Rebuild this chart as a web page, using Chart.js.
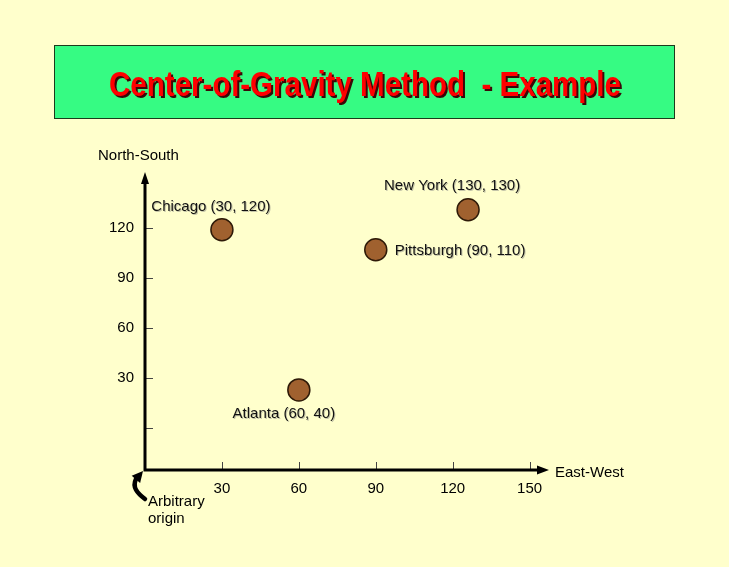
<!DOCTYPE html>
<html>
<head>
<meta charset="utf-8">
<script src="https://cdn.jsdelivr.net/npm/chart.js@4/dist/chart.umd.min.js"></script>
<style>
  html, body { margin: 0; padding: 0; background: #ffffcc; }
  canvas { display: block; }
</style>
</head>
<body>
<canvas id="myChart" width="729" height="567"></canvas>
<script>
const cities = ['Chicago (30, 120)', 'New York (130, 130)', 'Pittsburgh (90, 110)', 'Atlanta (60, 40)'];
const eastWest = [30, 126, 90, 60];
const northSouth = [119, 131, 107, 23];
const xTicks = [30, 60, 90, 120, 150];
const yTicks = [0, 30, 60, 90, 120];

const sans = '"Liberation Sans", Arial, sans-serif';
// where each city label sits relative to its point
const labelPlace = [
  { dx: -11, dy: -23, align: 'center' },
  { dx: -16, dy: -24, align: 'center' },
  { dx: 19, dy: 1, align: 'left' },
  { dx: -15, dy: 24, align: 'center' }
];

function arrowHead(c, x, y, ang, len, half) {
  c.save();
  c.translate(x, y);
  c.rotate(ang);
  c.beginPath();
  c.moveTo(0, 0);
  c.lineTo(-len, -half);
  c.lineTo(-len, half);
  c.closePath();
  c.fill();
  c.restore();
}

const slide = {
  id: 'slide',
  beforeDraw(chart) {
    const c = chart.ctx;
    c.save();
    c.fillStyle = '#ffffcc';
    c.fillRect(0, 0, chart.width, chart.height);
    // title box
    c.fillStyle = '#36fb83';
    c.fillRect(54, 45, 620, 73);
    c.strokeStyle = '#1c3a1c';
    c.lineWidth = 1;
    c.strokeRect(54.5, 45.5, 620, 73);
    const title = 'Center-of-Gravity Method  - Example';
    c.font = 'bold 35px ' + sans;
    c.textAlign = 'center';
    c.textBaseline = 'alphabetic';
    const sx = 512 / c.measureText(title).width;   // narrow look
    c.translate(365, 96);
    c.scale(sx, 1);
    c.fillStyle = '#3a0808';
    c.fillText(title, 2 / sx, 2);
    c.fillStyle = '#ff0000';
    c.fillText(title, 0, 0);
    c.restore();
  },
  beforeDatasetsDraw(chart) {
    const c = chart.ctx;
    const a = chart.chartArea;
    const xs = chart.scales.x, ys = chart.scales.y;
    c.save();
    // tick marks, inside the axes
    c.strokeStyle = '#444';
    c.lineWidth = 1;
    yTicks.forEach(v => {
      const y = Math.round(ys.getPixelForValue(v)) + 0.5;
      c.beginPath(); c.moveTo(a.left, y); c.lineTo(a.left + 8, y); c.stroke();
    });
    xTicks.forEach(v => {
      const x = Math.round(xs.getPixelForValue(v)) + 0.5;
      c.beginPath(); c.moveTo(x, a.bottom); c.lineTo(x, a.bottom - 8); c.stroke();
    });
    // axes with arrows
    c.strokeStyle = '#000';
    c.fillStyle = '#000';
    c.lineWidth = 3;
    c.beginPath();
    c.moveTo(a.left, a.top + 4);
    c.lineTo(a.left, a.bottom);
    c.lineTo(a.right - 6, a.bottom);
    c.stroke();
    arrowHead(c, a.left, a.top - 6, -Math.PI / 2, 12, 4);
    arrowHead(c, a.right + 4, a.bottom, 0, 12, 4.5);

    // axis titles
    c.font = '15px ' + sans;
    c.textBaseline = 'middle';
    c.fillStyle = '#000';
    c.textAlign = 'left';
    c.fillText('North-South', 98, 156);
    c.fillText('East-West', 555, 473);
    c.fillText('Arbitrary', 148, 502);
    c.fillText('origin', 148, 519);

    // curved arrow to the origin
    c.lineWidth = 4.5;
    c.lineCap = 'round';
    c.beginPath();
    c.moveTo(145, 499);
    c.bezierCurveTo(137, 493, 132, 487, 136, 479);
    c.stroke();
    arrowHead(c, 143, 471, -Math.PI / 2 + 0.7, 11, 5.5);
    c.restore();
  },
  afterDatasetsDraw(chart) {
    const c = chart.ctx;
    const pts = chart.getDatasetMeta(0).data;
    c.save();
    c.font = '15px ' + sans;
    c.textBaseline = 'middle';
    cities.forEach((name, i) => {
      const p = labelPlace[i];
      c.textAlign = p.align;
      c.fillStyle = '#c4c4a8';
      c.fillText(name, pts[i].x + p.dx + 1, pts[i].y + p.dy + 1);
      c.fillStyle = '#111';
      c.fillText(name, pts[i].x + p.dx, pts[i].y + p.dy);
    });
    c.restore();
  }
};

new Chart(document.getElementById('myChart'), {
  type: 'scatter',
  data: {
    datasets: [{
      label: 'Cities',
      data: eastWest.map((x, i) => ({ x: x, y: northSouth[i] })),
      backgroundColor: '#a0612f',
      borderColor: '#2e1a08',
      borderWidth: 1.5,
      pointRadius: 11,
      pointHoverRadius: 11,
      clip: false
    }]
  },
  plugins: [slide],
  options: {
    responsive: false,
    animation: false,
    events: [],
    layout: { padding: { left: 85, right: 184, top: 178, bottom: 67 } },
    plugins: { legend: { display: false }, tooltip: { enabled: false } },
    scales: {
      x: {
        type: 'linear',
        min: 0,
        max: 156,
        afterBuildTicks: s => { s.ticks = xTicks.map(v => ({ value: v })); },
        afterFit: s => { s.height = 30; },
        grid: { display: false },
        border: { display: false },
        ticks: { padding: 2, color: '#000', font: { family: sans, size: 15 } }
      },
      y: {
        type: 'linear',
        min: -25,
        max: 150,
        afterBuildTicks: s => { s.ticks = yTicks.map(v => ({ value: v })); },
        afterFit: s => { s.width = 60; },
        grid: { display: false },
        border: { display: false },
        ticks: {
          padding: 3,
          color: '#000',
          font: { family: sans, size: 15 },
          callback: v => (v === 0 ? '' : v)
        }
      }
    }
  }
});
</script>
</body>
</html>
